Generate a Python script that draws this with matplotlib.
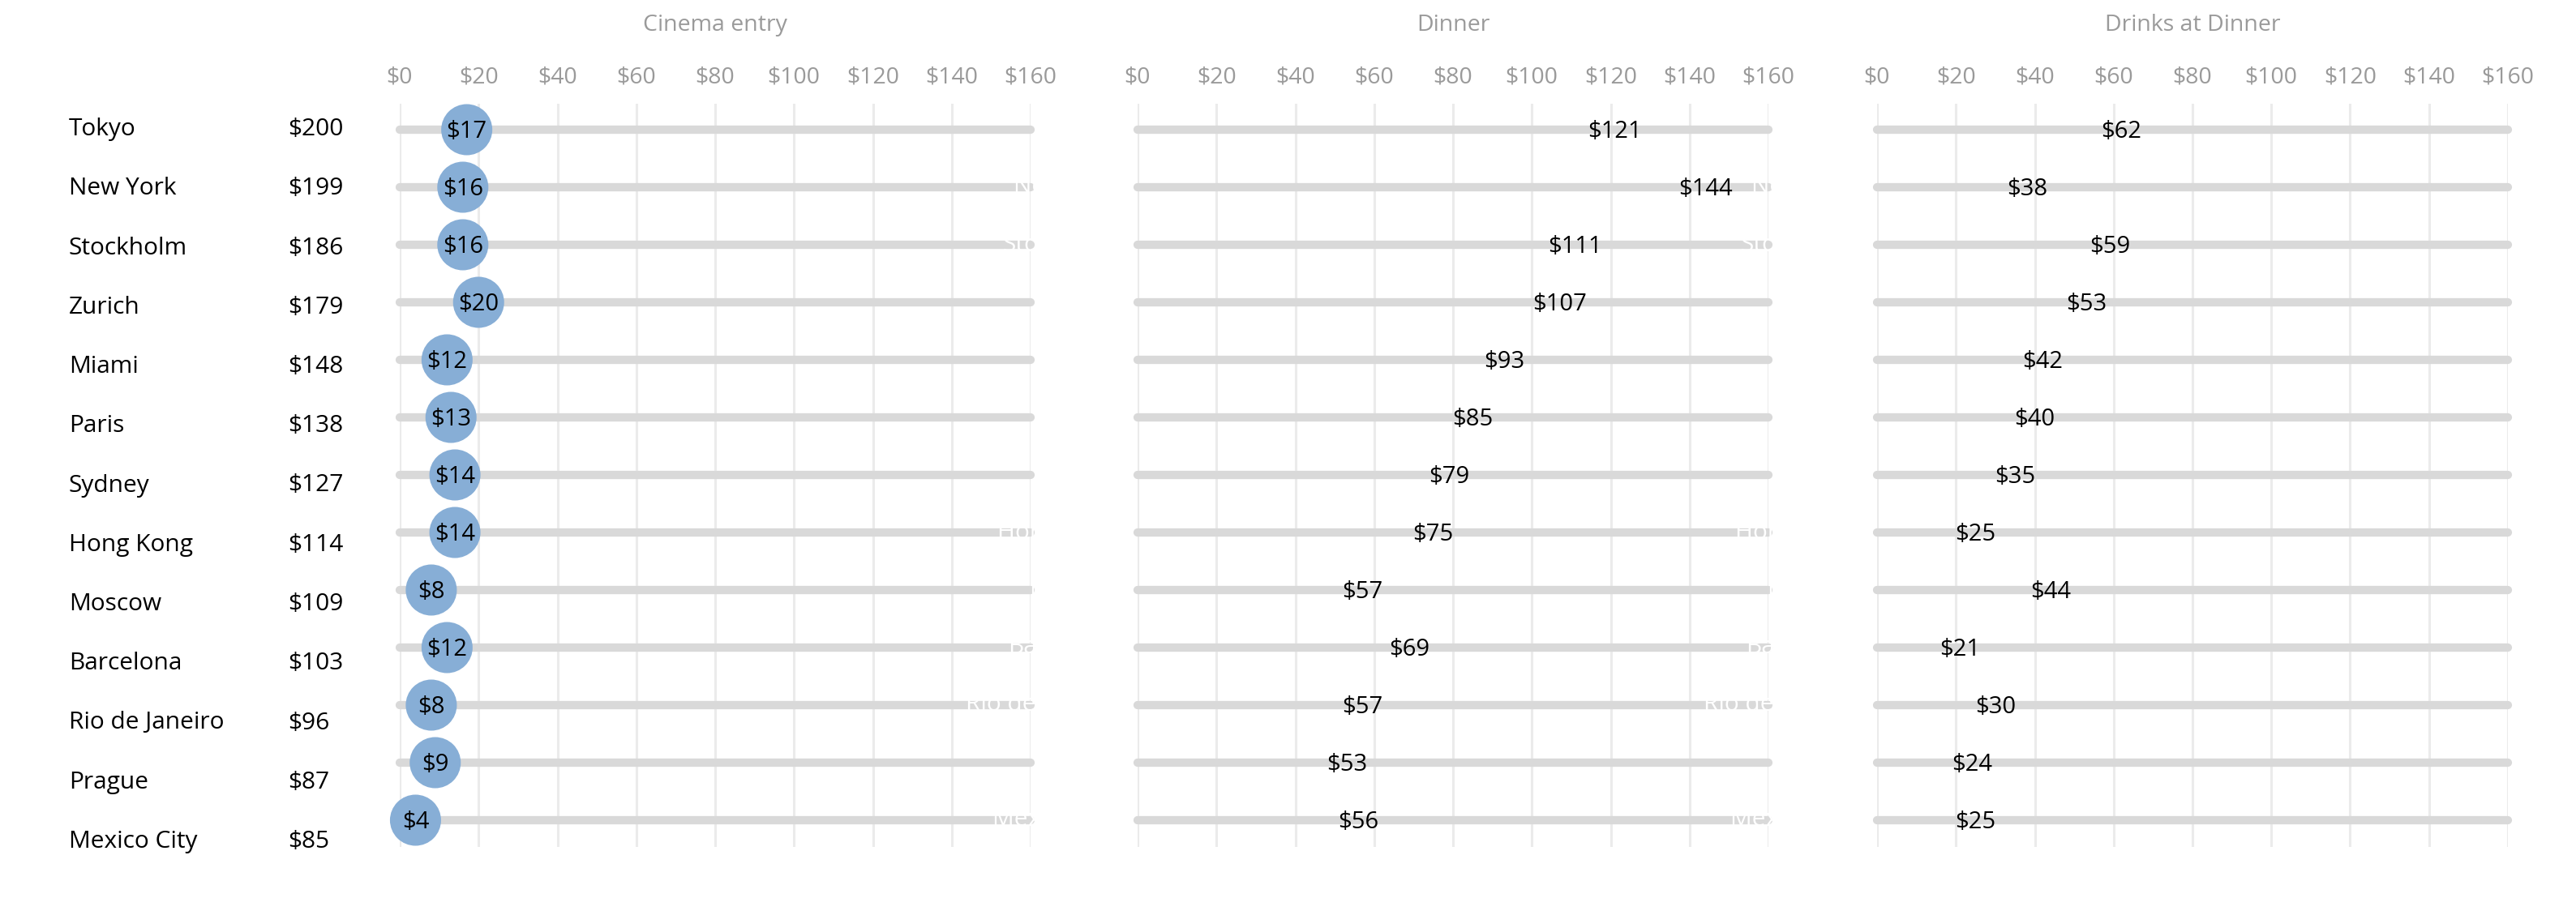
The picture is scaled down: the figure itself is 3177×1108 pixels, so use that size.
import matplotlib
matplotlib.use("Agg")
import matplotlib.pyplot as plt

plt.rcParams["font.family"] = ["Open Sans", "DejaVu Sans"]

# data
cities = ["Tokyo", "New York", "Stockholm", "Zurich", "Miami", "Paris", "Sydney",
          "Hong Kong", "Moscow", "Barcelona", "Rio de Janeiro", "Prague", "Mexico City"]
totals = [200, 199, 186, 179, 148, 138, 127, 114, 109, 103, 96, 87, 85]
cinema = [17, 16, 16, 20, 12, 13, 14, 14, 8, 12, 8, 9, 4]
dinner = [121, 144, 111, 107, 93, 85, 79, 75, 57, 69, 57, 53, 56]
drinks = [62, 38, 59, 53, 42, 40, 35, 25, 44, 21, 30, 24, 25]
panel_titles = ["Cinema entry", "Dinner", "Drinks at Dinner"]
xticks = [0, 20, 40, 60, 80, 100, 120, 140, 160]
xticklabels = ["$" + str(t) for t in xticks]

W, H = 3177, 1108
fig = plt.figure(figsize=(W / 100, H / 100), dpi=100)

ax_top_px, ax_bot_px = 128, 1045
bottom = 1 - ax_bot_px / H
height = (ax_bot_px - ax_top_px) / H
panel_left = [493, 1403, 2315]
panel_w = 778

grey_txt = "#9a9a9a"
track_col = "#d9d9d9"
grid_col = "#ebebeb"
dot_col = "#87aed6"

n = len(cities)
rows = list(range(n))

# left column: city names and totals
ax_lab = fig.add_axes([0, bottom, 480 / W, height])
ax_lab.set_xlim(0, 480)
ax_lab.set_ylim((ax_bot_px - 167) / 73.25, (ax_top_px - 167) / 73.25)
ax_lab.axis("off")
for i in rows:
    ax_lab.text(85, i, cities[i], fontsize=21.5, va="baseline", ha="left", color="black")
    ax_lab.text(355, i, "$" + str(totals[i]), fontsize=21.5, va="baseline", ha="left", color="black")

series = [cinema, dinner, drinks]
for k in range(3):
    ax = fig.add_axes([panel_left[k] / W, bottom, panel_w / W, height])
    ax.set_xlim(0, 160)
    ax.set_ylim(12 + 33 / 71, -32 / 71)
    for s in ax.spines.values():
        s.set_visible(False)
    ax.set_yticks([])
    ax.set_xticks(xticks)
    ax.set_xticklabels(xticklabels)
    ax.xaxis.tick_top()
    ax.tick_params(axis="x", length=0, pad=13.5, labelsize=20.5, labelcolor=grey_txt)
    ax.grid(axis="x", color=grid_col, lw=2.2, zorder=0)
    ax.set_axisbelow(True)
    ax.text(0.5, 1 + (ax_top_px - 38) / (ax_bot_px - ax_top_px), panel_titles[k],
            transform=ax.transAxes, ha="center", va="baseline", fontsize=20.5, color=grey_txt)

    vals = series[k]
    for i in rows:
        ax.plot([0, 160], [i, i], color=track_col, lw=7.4, solid_capstyle="round",
                zorder=2, clip_on=False)

    # city names of the next panel bleeding in as white text
    if k < 2:
        for i in rows:
            ax.text(183, i, cities[i], fontsize=21.5, color="white", ha="right",
                    va="center", zorder=3, clip_on=False)

    if k == 0:
        ax.scatter(vals, rows, s=2060, color=dot_col, edgecolors="none", zorder=4, clip_on=False)
    for i in rows:
        ax.annotate("$" + str(vals[i]), (vals[i], i), xytext=(0, -7.2), textcoords="offset points",
                    ha="center", va="baseline", fontsize=21, color="black", zorder=5,
                    annotation_clip=False)

fig.savefig("out.png", dpi=100, facecolor="white")
